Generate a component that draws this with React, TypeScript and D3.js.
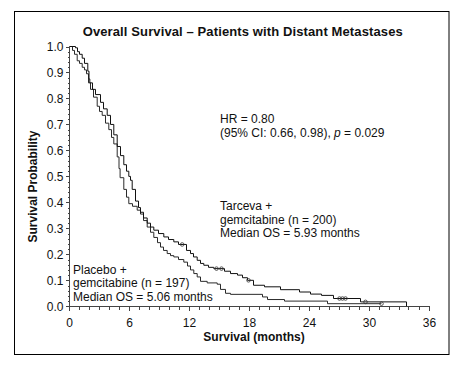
import React from "react";
import * as d3 from "d3";

// Tarceva + gemcitabine (n = 200) — Kaplan–Meier steps
const tarcevaTime = [0, 0.6, 0.8, 1.0, 1.27, 1.5, 1.83, 1.95, 2.03, 2.3, 2.6, 3.1, 3.4, 3.77, 4.1, 4.43, 4.77, 5.1, 5.43, 5.7, 5.93, 6.1, 6.27, 6.6, 6.9, 7.1, 7.4, 7.77, 8.1, 8.43, 8.9, 9.43, 9.9, 10.43, 10.9, 11.7, 12.1, 12.4, 12.77, 13.1, 13.43, 13.9, 14.43, 15.5, 16.1, 16.8, 17.3, 17.8, 18.4, 19.5, 21.1, 23.0, 24.1, 25.2, 26.4, 29.1, 33.7];
const tarcevaSurv = [1.0, 0.995, 0.98, 0.97, 0.955, 0.935, 0.905, 0.875, 0.86, 0.835, 0.815, 0.785, 0.76, 0.735, 0.7, 0.66, 0.615, 0.58, 0.545, 0.52, 0.5, 0.485, 0.45, 0.405, 0.38, 0.362, 0.34, 0.32, 0.305, 0.293, 0.28, 0.267, 0.257, 0.248, 0.238, 0.215, 0.203, 0.19, 0.177, 0.165, 0.158, 0.15, 0.145, 0.135, 0.126, 0.12, 0.11, 0.1, 0.081, 0.075, 0.064, 0.055, 0.047, 0.042, 0.03, 0.017, 0.0];
const tarcevaCensor = [11.27, 14.7, 15.2, 17.9, 27.0, 27.3, 27.6, 29.6];

// Placebo + gemcitabine (n = 197)
const placeboTime = [0, 0.3, 0.5, 0.77, 1.0, 1.27, 1.5, 1.7, 1.9, 2.1, 2.4, 2.77, 3.0, 3.27, 3.6, 3.93, 4.2, 4.43, 4.77, 4.95, 5.06, 5.43, 5.7, 5.93, 6.3, 6.77, 7.1, 7.4, 7.77, 8.1, 8.43, 8.8, 9.1, 9.4, 9.77, 10.1, 10.43, 10.9, 11.43, 11.8, 12.1, 12.43, 12.77, 13.1, 13.77, 14.77, 15.1, 15.6, 16.1, 19.3, 19.8, 21.5, 25.8, 31.2];
const placeboSurv = [1.0, 0.985, 0.97, 0.945, 0.935, 0.92, 0.91, 0.895, 0.86, 0.835, 0.805, 0.77, 0.75, 0.735, 0.705, 0.68, 0.65, 0.625, 0.575, 0.53, 0.495, 0.45, 0.42, 0.395, 0.385, 0.37, 0.355, 0.33, 0.305, 0.285, 0.265, 0.245, 0.228, 0.215, 0.203, 0.195, 0.19, 0.18, 0.17, 0.155, 0.14, 0.126, 0.113, 0.096, 0.09, 0.085, 0.065, 0.05, 0.046, 0.036, 0.026, 0.02, 0.01, 0.01];
const placeboCensor = [31.2];

const xTicksMajor = [0, 6, 12, 18, 24, 30, 36];
const yTicksMajor = [0, 0.1, 0.2, 0.3, 0.4, 0.5, 0.6, 0.7, 0.8, 0.9, 1.0];

const titleText = "Overall Survival – Patients with Distant Metastases";
const xLabel = "Survival (months)";
const yLabel = "Survival Probability";
const tarcevaLabel = ["Tarceva +", "gemcitabine (n = 200)", "Median OS = 5.93 months"];
const placeboLabel = ["Placebo +", "gemcitabine (n = 197)", "Median OS = 5.06 months"];

const FONT = "Arial, 'Liberation Sans', sans-serif";

function survAt(times: number[], surv: number[], t: number) {
  let s = surv[0];
  for (let i = 0; i < times.length; i++) if (times[i] <= t) s = surv[i];
  return s;
}

export default function App() {
  const W = 459, H = 365;
  const x = d3.scaleLinear().domain([0, 36]).range([69.5, 429.5]);
  const y = d3.scaleLinear().domain([0, 1]).range([306.3, 46.5]);

  const line = d3
    .line<[number, number]>()
    .x((d) => x(d[0]))
    .y((d) => y(d[1]))
    .curve(d3.curveStepAfter);

  const tData = tarcevaTime.map((t, i) => [t, tarcevaSurv[i]] as [number, number]);
  const pData = placeboTime.map((t, i) => [t, placeboSurv[i]] as [number, number]);

  const xMinor = d3.range(0, 37, 1);
  const yMinor = d3.range(0, 51, 1).map((v) => v / 50);
  const ax = Math.round(x(0)) - 0.5;
  const ay = Math.round(y(0)) + 0.5;

  return (
    <svg width={W} height={H} style={{ position: "absolute", left: 0, top: 0, background: "#fff" }} fontFamily={FONT}>
      <rect x={0} y={0} width={W} height={H} fill="#fff" />
      <rect x={14.5} y={11.5} width={434.5} height={343} fill="none" stroke="#000" strokeWidth={1} />
      <text x={242.7} y={36} textAnchor="middle" fontSize={13} fontWeight="bold" fill="#111" textLength={320}>
        {titleText}
      </text>

      {/* axes */}
      <g stroke="#444" strokeWidth={1} shapeRendering="crispEdges">
        <line x1={ax} x2={ax} y1={y(1)} y2={ay} />
        <line x1={ax} x2={x(36)} y1={ay} y2={ay} />
        {xMinor.map((t) => (
          <line key={"xm" + t} x1={Math.round(x(t)) - 0.5} x2={Math.round(x(t)) - 0.5} y1={ay} y2={ay + (t % 6 === 0 ? 4 : 3)} />
        ))}
        {yMinor.map((v, i) => (
          <line key={"ym" + i} x1={ax} x2={ax - (i % 5 === 0 ? 4 : 2)} y1={Math.round(y(v)) + 0.5} y2={Math.round(y(v)) + 0.5} />
        ))}
      </g>
      {xTicksMajor.map((t) => (
        <text key={"xt" + t} x={x(t)} y={326.5} textAnchor="middle" fontSize={12} fill="#111">
          {t}
        </text>
      ))}
      {yTicksMajor.map((v) => (
        <text key={"yt" + v} x={63.5} y={y(v) + 4.2} textAnchor="end" fontSize={12} fill="#111">
          {d3.format(".1f")(v)}
        </text>
      ))}
      <text x={254} y={341} textAnchor="middle" fontSize={12} fontWeight="bold" fill="#111">
        {xLabel}
      </text>
      <text transform="translate(37,186.5) rotate(-90)" textAnchor="middle" fontSize={12} fontWeight="bold" fill="#111">
        {yLabel}
      </text>

      {/* curves */}
      <path d={line(pData) || ""} fill="none" stroke="#2a2a2a" strokeWidth={1} />
      <path d={line(tData) || ""} fill="none" stroke="#111" strokeWidth={1} />
      {tarcevaCensor.map((t, i) => (
        <circle key={"tc" + i} cx={x(t)} cy={y(survAt(tarcevaTime, tarcevaSurv, t))} r={1.8} fill="none" stroke="#333" strokeWidth={0.8} />
      ))}
      {placeboCensor.map((t, i) => (
        <circle key={"pc" + i} cx={x(t)} cy={y(survAt(placeboTime, placeboSurv, t))} r={1.8} fill="none" stroke="#333" strokeWidth={0.8} />
      ))}

      {/* annotations */}
      <text x={220} y={123} fontSize={12} fill="#111">HR = 0.80</text>
      <text x={220} y={136.5} fontSize={12} fill="#111">
        (95% CI: 0.66, 0.98), <tspan fontStyle="italic">p</tspan> = 0.029
      </text>
      {tarcevaLabel.map((s, i) => (
        <text key={"tl" + i} x={220} y={210 + i * 13.5} fontSize={12} fill="#111">{s}</text>
      ))}
      {placeboLabel.map((s, i) => (
        <text key={"pl" + i} x={73} y={273.5 + i * 13.7} fontSize={12} fill="#111">{s}</text>
      ))}
    </svg>
  );
}
